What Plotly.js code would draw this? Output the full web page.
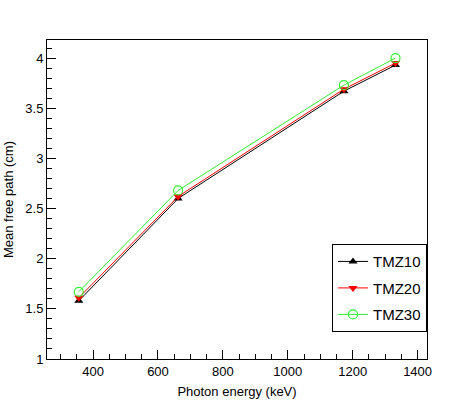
<!DOCTYPE html>
<html><head><meta charset="utf-8">
<script src="https://cdn.plot.ly/plotly-3.0.1.min.js"></script>
<style>html,body{margin:0;padding:0;background:#fff}#c{width:474px;height:400px}</style>
</head><body><div id="c"></div>
<script>
const energies = [356, 662, 1173, 1332];
const tmz10 = [1.58, 2.60, 3.67, 3.93];
const tmz20 = [1.61, 2.62, 3.69, 3.95];
const tmz30 = [1.67, 2.68, 3.73, 4.00];
const names = ["TMZ10", "TMZ20", "TMZ30"];

const font = {family: "Liberation Sans, Arial, sans-serif", size: 13, color: "#000"};
const traces = [
  {x: energies, y: tmz10, name: names[0], mode: "lines+markers", legendgroup: "a",
   line: {color: "#000000", width: 1}, marker: {symbol: "triangle-up", size: 8, color: "#000000"}},
  {x: energies, y: tmz20, name: names[1], mode: "lines+markers", legendgroup: "b",
   line: {color: "#ff0000", width: 1}, marker: {symbol: "triangle-down", size: 8, color: "#ff0000"}},
  {x: energies, y: tmz30, name: names[2], mode: "lines+markers", legendgroup: "c",
   line: {color: "#33ee33", width: 1}, marker: {symbol: "circle-open", size: 9, color: "#33ee33", line: {width: 1.2}}}
];
const layout = {
  width: 474, height: 400,
  margin: {l: 46.5, r: 47, t: 40, b: 41},
  paper_bgcolor: "#fff", plot_bgcolor: "#fff",
  font: font,
  showlegend: true,
  legend: {x: 0.75, y: 0.36, xanchor: "left", yanchor: "top",
    bordercolor: "#000", borderwidth: 1, bgcolor: "#fff",
    font: {family: font.family, size: 15, color: "#000"},
    tracegroupgap: 4, itemwidth: 30},
  xaxis: {range: [258, 1429], showgrid: false, zeroline: false,
    showline: true, linecolor: "#000", linewidth: 1, mirror: true,
    ticks: "inside", ticklen: 9, tickwidth: 1, tickcolor: "#000",
    dtick: 200, tick0: 0,
    minor: {dtick: 50, ticks: "inside", ticklen: 5, tickcolor: "#000", showgrid: false},
    tickfont: font,
    title: {text: "Photon energy (keV)", font: font, standoff: 9}},
  yaxis: {range: [1, 4.18], showgrid: false, zeroline: false,
    showline: true, linecolor: "#000", linewidth: 1, mirror: true,
    ticks: "inside", ticklen: 9, tickwidth: 1, tickcolor: "#000",
    dtick: 0.5, tick0: 0,
    minor: {dtick: 0.1, ticks: "inside", ticklen: 5, tickcolor: "#000", showgrid: false},
    tickfont: font,
    title: {text: "Mean free path (cm)", font: font, standoff: 8}}
};
Plotly.newPlot("c", traces, layout, {displayModeBar: false, staticPlot: true});
</script></body></html>
